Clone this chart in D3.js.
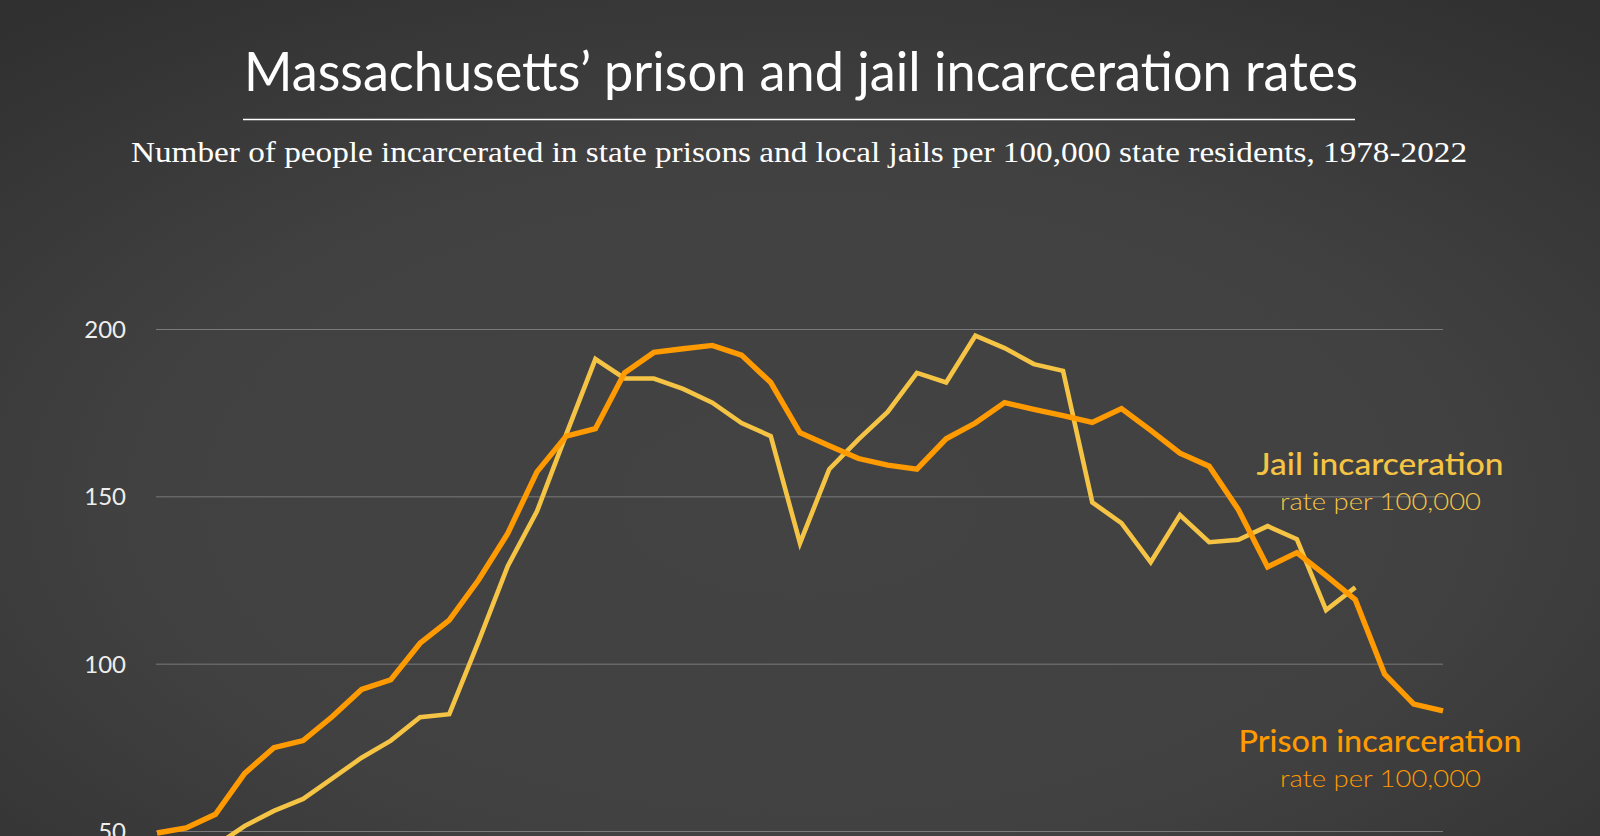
<!DOCTYPE html>
<html>
<head>
<meta charset="utf-8">
<script src="https://cdn.jsdelivr.net/npm/d3@7"></script>
<style>
html,body{margin:0;padding:0;background:#3a3a3a;overflow:hidden;}
svg{display:block;}
</style>
</head>
<body>
<svg id="chart" width="1600" height="836"></svg>
<script>
const years = [1978,1979,1980,1981,1982,1983,1984,1985,1986,1987,1988,1989,1990,1991,1992,1993,1994,1995,1996,1997,1998,1999,2000,2001,2002,2003,2004,2005,2006,2007,2008,2009,2010,2011,2012,2013,2014,2015,2016,2017,2018,2019,2020,2021,2022];
const prisonRate = [49.4,50.9,55,67.2,74.9,77,84.2,92.3,95.2,106.1,113,125,138.9,157.3,168,170.2,186.9,193,194.1,195.1,192.2,184,169,165.1,161.3,159.3,158.1,167.2,171.9,178,176,174.1,172.1,176.2,169.7,162.9,159,146,128.9,133.2,126.3,119.1,96.9,87.9,85.9];
const jailRate = [41,43.5,45.6,51.5,56,59.6,65.7,71.9,77,84,84.9,106.6,129.1,145.5,168.5,191,185.2,185.2,182.1,178,171.9,168,136,158.1,167,175.2,186.9,184,198,194.3,189.5,187.5,148.2,142,130.3,144.4,136.3,137,141.1,137.2,116,122.8];
const yTicks = [50,100,150,200];
const titleText = "Massachusetts\u2019 prison and jail incarceration rates";
const subtitleText = "Number of people incarcerated in state prisons and local jails per 100,000 state residents, 1978-2022";
const jailLabel = ["Jail incarceration","rate per 100,000"];
const prisonLabel = ["Prison incarceration","rate per 100,000"];

const W = 1600, H = 836;
const svg = d3.select("#chart");
const defs = svg.append("defs");
const grad = defs.append("radialGradient").attr("id","bg").attr("cx","50%").attr("cy","60%").attr("r","75%");
grad.append("stop").attr("offset","0%").attr("stop-color","#434343");
grad.append("stop").attr("offset","55%").attr("stop-color","#414141");
grad.append("stop").attr("offset","100%").attr("stop-color","#303030");
svg.append("rect").attr("width",W).attr("height",H).attr("fill","url(#bg)");

const sans = "Lato, 'Open Sans', sans-serif";

// Title
svg.append("text").attr("x",801).attr("y",91).attr("text-anchor","middle")
  .attr("font-family",sans).attr("font-size",55).attr("fill","#ffffff")
  .attr("textLength",1114).attr("lengthAdjust","spacingAndGlyphs").text(titleText);
svg.append("line").attr("x1",243).attr("x2",1355).attr("y1",119.5).attr("y2",119.5)
  .attr("stroke","#ffffff").attr("stroke-width",1.5);
svg.append("text").attr("x",799).attr("y",162).attr("text-anchor","middle")
  .attr("font-family","'Liberation Serif', 'DejaVu Serif', serif").attr("font-size",29).attr("fill","#ffffff")
  .attr("textLength",1336).attr("lengthAdjust","spacingAndGlyphs").text(subtitleText);

const x = d3.scaleLinear().domain([1978,2022]).range([157,1443]);
const y = d3.scaleLinear().domain([50,200]).range([831,329]);

// Gridlines via axis
const grid = svg.append("g").attr("transform","translate(156,0)")
  .call(d3.axisRight(y).tickValues(yTicks).tickSize(1443-156).tickFormat(""));
grid.select(".domain").remove();
grid.selectAll("line").attr("stroke","#7a7a7a").attr("stroke-width",1);

const yAxis = svg.append("g").attr("transform","translate(126,0)")
  .call(d3.axisLeft(y).tickValues(yTicks).tickSize(0).tickPadding(0));
yAxis.select(".domain").remove();
yAxis.selectAll("text").attr("font-family",sans).attr("font-size",24).attr("fill","#eeeeee")
  .attr("dy","0.36em");

const line = d3.line().x((d,i)=>x(years[i])).y(d=>y(d));

svg.append("path").datum(jailRate).attr("d",line).attr("fill","none")
  .attr("stroke","#f6c445").attr("stroke-width",4.6).attr("stroke-linejoin","miter").attr("stroke-miterlimit",10);
svg.append("path").datum(prisonRate).attr("d",line).attr("fill","none")
  .attr("stroke","#ff9a00").attr("stroke-width",5.4).attr("stroke-linejoin","miter").attr("stroke-miterlimit",10);

// Labels
function lab(lines, color, yb, w1, w2){
  svg.append("text").attr("x",1380).attr("y",yb).attr("text-anchor","middle")
    .attr("font-family",sans).attr("font-size",31).attr("font-weight",500).attr("fill",color)
    .attr("textLength",w1).attr("lengthAdjust","spacingAndGlyphs").text(lines[0]);
  svg.append("text").attr("x",1380.5).attr("y",yb+35).attr("text-anchor","middle")
    .attr("font-family",sans).attr("font-size",24).attr("font-weight",300).attr("fill",color)
    .attr("textLength",w2).attr("lengthAdjust","spacingAndGlyphs").text(lines[1]);
}
lab(jailLabel,"#f6c445",475,247,201);
lab(prisonLabel,"#ff9a00",752,283,201);
</script>
</body>
</html>
